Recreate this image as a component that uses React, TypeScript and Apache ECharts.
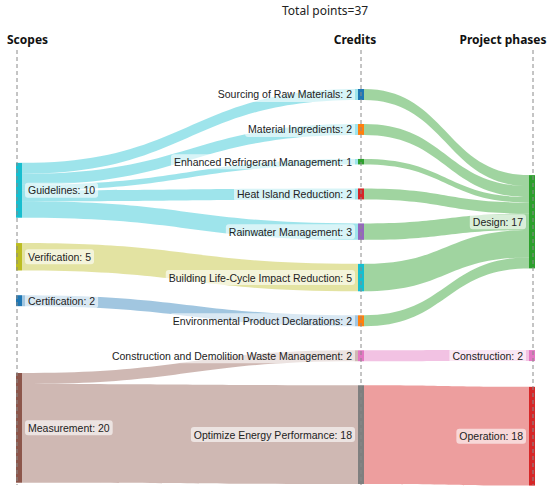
import { useEffect, useRef } from "react";
import * as echarts from "echarts";

const scopes = ["Guidelines", "Verification", "Certification", "Measurement"];
const scopeColors = ["#17becf", "#bcbd22", "#1f77b4", "#8c564b"];

const credits = [
  "Sourcing of Raw Materials",
  "Material Ingredients",
  "Enhanced Refrigerant Management",
  "Heat Island Reduction",
  "Rainwater Management",
  "Building Life-Cycle Impact Reduction",
  "Environmental Product Declarations",
  "Construction and Demolition Waste Management",
  "Optimize Energy Performance",
];
const creditColors = ["#1f77b4", "#ff7f0e", "#2ca02c", "#d62728", "#9467bd", "#17becf", "#ff7f0e", "#e377c2", "#7f7f7f"];

const phases = ["Design", "Construction", "Operation"];
const phaseColors = ["#2ca02c", "#e377c2", "#d62728"];

// scope -> credit, points
const scopeLinks: [string, string, number][] = [
  ["Guidelines", "Sourcing of Raw Materials", 2],
  ["Guidelines", "Material Ingredients", 2],
  ["Guidelines", "Enhanced Refrigerant Management", 1],
  ["Guidelines", "Heat Island Reduction", 2],
  ["Guidelines", "Rainwater Management", 3],
  ["Verification", "Building Life-Cycle Impact Reduction", 5],
  ["Certification", "Environmental Product Declarations", 2],
  ["Measurement", "Construction and Demolition Waste Management", 2],
  ["Measurement", "Optimize Energy Performance", 18],
];

// credit -> phase, points
const phaseLinks: [string, string, number][] = [
  ["Sourcing of Raw Materials", "Design", 2],
  ["Material Ingredients", "Design", 2],
  ["Enhanced Refrigerant Management", "Design", 1],
  ["Heat Island Reduction", "Design", 2],
  ["Rainwater Management", "Design", 3],
  ["Building Life-Cycle Impact Reduction", "Design", 5],
  ["Environmental Product Declarations", "Design", 2],
  ["Construction and Demolition Waste Management", "Construction", 2],
  ["Optimize Energy Performance", "Operation", 18],
];

const columnTitles = ["Scopes", "Credits", "Project phases"];
const totalPoints = 37;

// vertical placement of the outer columns, as a share of the plot height
const scopeTops = [0.187, 0.39, 0.522, 0.719];
const phaseTops = [0.218, 0.661, 0.754];

const FONT = "'Liberation Sans', Arial, sans-serif";
const HEAD_FONT = "'Noto Sans', 'Open Sans', sans-serif";

function sumFor(name: string, links: [string, string, number][], side: 0 | 1) {
  return links.filter((l) => l[side] === name).reduce((s, l) => s + l[2], 0);
}

function SankeyChart() {
  const ref = useRef<HTMLDivElement>(null);
  useEffect(() => {
    if (!ref.current) return;
    const chart = echarts.init(ref.current, null, { renderer: "svg" });

    const labelBox = {
      fontFamily: FONT,
      fontSize: 10.5,
      color: "#222",
      backgroundColor: "rgba(255,255,255,0.6)",
      borderRadius: 3,
      padding: [2, 3],
      distance: 3,
    };

    const nodes = [
      ...scopes.map((s, i) => ({
        name: s,
        value: sumFor(s, scopeLinks, 0),
        depth: 0,
        localY: scopeTops[i],
        itemStyle: { color: scopeColors[i] },
        label: { ...labelBox, position: "right" },
      })),
      ...credits.map((c, i) => ({
        name: c,
        value: sumFor(c, scopeLinks, 1),
        depth: 2,
        itemStyle: { color: creditColors[i] },
        label: { ...labelBox, position: "left" },
      })),
      ...phases.map((p, i) => ({
        name: p,
        value: sumFor(p, phaseLinks, 1),
        depth: 3,
        localY: phaseTops[i],
        itemStyle: { color: phaseColors[i] },
        label: { ...labelBox, position: "left" },
      })),
    ];

    const links = [
      ...scopeLinks.map(([s, t, v]) => ({
        source: s,
        target: t,
        value: v,
        lineStyle: { color: scopeColors[scopes.indexOf(s)], opacity: 0.42 },
      })),
      ...phaseLinks.map(([s, t, v]) => ({
        source: s,
        target: t,
        value: v,
        lineStyle: { color: phaseColors[phases.indexOf(t)], opacity: 0.45 },
      })),
    ];

    const colX = [17, 361, 533];
    const titleX = [7, 355, 503];

    chart.setOption({
      animation: false,
      graphic: [
        {
          type: "text",
          left: 282,
          top: 4,
          style: { text: `Total points=${totalPoints}`, font: `12px ${HEAD_FONT}`, fill: "#222" },
        },
        ...columnTitles.map((t, i) => ({
          type: "text",
          x: titleX[i],
          y: 39,
          style: {
            text: t,
            font: `bold 12px ${HEAD_FONT}`,
            fill: "#111",
            align: i === 0 ? "left" : "center",
            verticalAlign: "middle",
          },
        })),
        ...colX.map((x) => ({
          type: "line",
          z: 100,
          shape: { x1: x, y1: 50, x2: x, y2: 485 },
          style: { stroke: "#8a8a8a", lineWidth: 1, lineDash: [4, 3] },
        })),
      ],
      series: [
        {
          type: "sankey",
          left: 16,
          right: 15,
          top: 89,
          bottom: 9,
          nodeWidth: 6,
          nodeGap: 24,
          layoutIterations: 0,
          draggable: false,
          emphasis: { disabled: true },
          lineStyle: { curveness: 0.5 },
          label: { formatter: "{b}: {c}" },
          data: nodes,
          links,
        },
      ],
    });
    return () => chart.dispose();
  }, []);
  return <div ref={ref} style={{ width: 550, height: 493 }} />;
}

export default function App() {
  return (
    <div style={{ position: "absolute", left: 0, top: 0 }}>
      <SankeyChart />
    </div>
  );
}
